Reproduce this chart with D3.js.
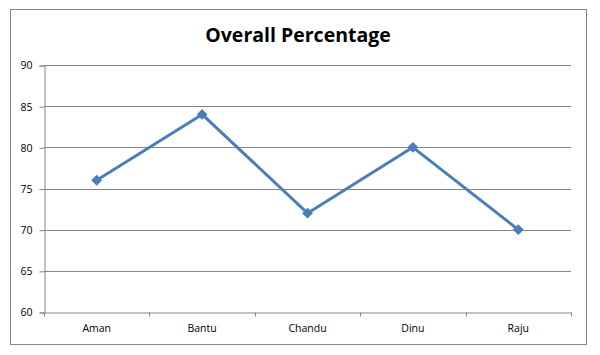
<!DOCTYPE html>
<html lang="en">
<head>
  <meta charset="utf-8">
  <title>Overall Percentage</title>
  <script src="https://d3js.org/d3.v7.min.js"></script>
  <style>
    body { margin: 0; background: #fff; }
    svg { display: block; }
    .tick text { font-family: "Open Sans", "DejaVu Sans", sans-serif; font-size: 10.5px; fill: #000; }
  </style>
</head>
<body>
<div id="chart"></div>
<script>
  // data
  const names = ["Aman", "Bantu", "Chandu", "Dinu", "Raju"];
  const percent = [76, 84, 72, 80, 70];
  const yTicks = [60, 65, 70, 75, 80, 85, 90];

  const width = 600, height = 355;
  const plot = { left: 44, right: 571, top: 65, bottom: 312 };

  const svg = d3.select("#chart").append("svg")
    .attr("width", width)
    .attr("height", height);

  // outer chart border
  svg.append("rect")
    .attr("x", 10.5).attr("y", 9.5)
    .attr("width", 576).attr("height", 335)
    .attr("fill", "#fff")
    .attr("stroke", "#868686");

  svg.append("text")
    .attr("x", 298).attr("y", 42)
    .attr("text-anchor", "middle")
    .attr("font-family", "'Open Sans', sans-serif")
    .attr("font-weight", "bold")
    .attr("font-size", 19.5)
    .text("Overall Percentage");

  const x = d3.scaleBand()
    .domain(names)
    .range([plot.left, plot.right]);

  const y = d3.scaleLinear()
    .domain([60, 90])
    .range([plot.bottom, plot.top]);

  // gridlines
  svg.append("g")
    .selectAll("line")
    .data(yTicks.slice(1))
    .enter().append("line")
    .attr("x1", plot.left).attr("x2", plot.right)
    .attr("y1", d => Math.round(y(d)) + 0.5)
    .attr("y2", d => Math.round(y(d)) + 0.5)
    .attr("stroke", "#868686");

  // y axis
  const yAxis = svg.append("g")
    .attr("transform", "translate(" + (plot.left + 0.5) + ",0.5)")
    .call(d3.axisLeft(y).tickValues(yTicks).tickSize(5).tickPadding(7));
  yAxis.selectAll("path, line").attr("stroke", "#868686");

  // x axis with ticks at band edges
  const xAxis = svg.append("g")
    .attr("transform", "translate(0," + (plot.bottom + 0.5) + ")")
    .call(d3.axisBottom(x).tickSize(0).tickPadding(12));
  xAxis.select(".domain").attr("stroke", "#868686");
  xAxis.selectAll(".edge")
    .data(names.map(n => x(n) + x.bandwidth()).concat([plot.left]))
    .enter().append("line")
    .attr("class", "edge")
    .attr("x1", d => Math.round(d) + 0.5).attr("x2", d => Math.round(d) + 0.5)
    .attr("y1", 0).attr("y2", 4)
    .attr("stroke", "#868686");

  // series line
  const pts = names.map((n, i) => ({ name: n, value: percent[i] }));
  svg.append("path")
    .datum(pts)
    .attr("fill", "none")
    .attr("stroke", "#4a7ebb")
    .attr("stroke-width", 3)
    .attr("stroke-linejoin", "round")
    .attr("d", d3.line()
      .x(d => x(d.name) + x.bandwidth() / 2)
      .y(d => y(d.value)));

  svg.selectAll(".marker")
    .data(pts)
    .enter().append("path")
    .attr("class", "marker")
    .attr("fill", "#4a7ebb")
    .attr("transform", d => "translate(" + (x(d.name) + x.bandwidth() / 2) + "," + y(d.value) + ")")
    .attr("d", d3.symbol().type(d3.symbolDiamond2).size(75));
</script>
</body>
</html>
